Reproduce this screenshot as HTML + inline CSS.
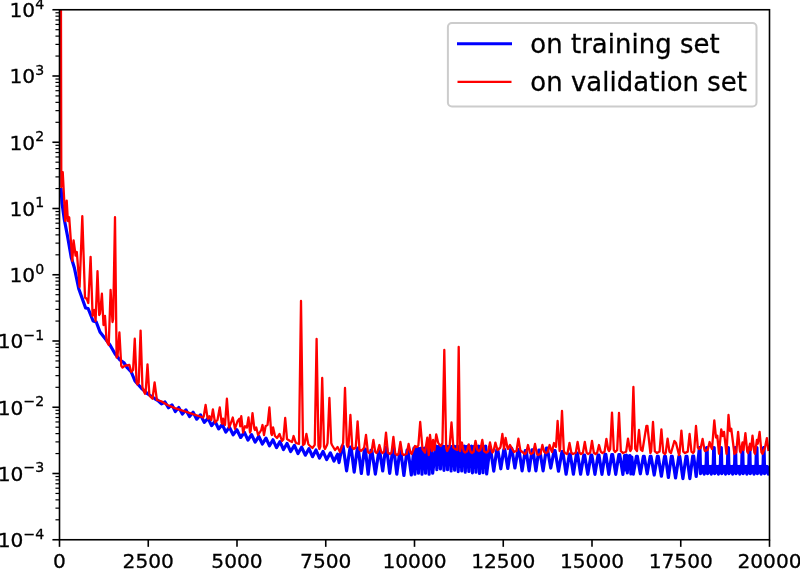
<!DOCTYPE html>
<html lang="en">
<head>
<meta charset="utf-8">
<title>Loss on training and validation set</title>
<style>
html,body{margin:0;padding:0;background:#fff;}
body{width:800px;height:569px;overflow:hidden;}
svg{display:block;}
text{font-family:"DejaVu Sans","Liberation Sans",sans-serif;fill:#000;stroke:#000;stroke-width:0.3px;}
</style>
</head>
<body>
<svg width="800" height="569" viewBox="0 0 800 569">
<rect x="0" y="0" width="800" height="569" fill="#ffffff"/>
<defs><clipPath id="ax"><rect x="59.5" y="9.75" width="710.0" height="530.0"/></clipPath></defs>
<g clip-path="url(#ax)" fill="none" stroke-linejoin="round" stroke-linecap="butt">
<polyline stroke="#0000ff" stroke-width="3.2" points="61.10,188.00 62.00,203.00 64.40,220.00 67.50,236.00 71.25,257.50 74.40,268.00 78.75,288.75 85.60,308.00 88.10,308.50 93.10,321.00 96.25,322.00 100.00,332.00 106.25,340.00 110.00,345.00 115.00,353.75 120.00,360.00 123.75,362.50 127.50,368.00 131.25,372.00 135.00,381.00 141.25,388.00 147.50,393.75 155.00,398.75 158.00,400.50 161.50,403.93 165.00,401.98 168.45,407.75 171.90,404.86 175.32,411.47 178.75,407.43 182.38,414.00 186.00,409.90 189.55,416.58 193.10,412.31 196.75,419.17 200.40,414.84 204.25,422.29 208.10,418.23 211.55,425.64 215.00,421.27 218.62,428.89 222.25,424.47 225.82,432.12 229.40,427.18 233.15,434.75 236.90,429.73 240.65,437.45 244.40,432.29 247.95,440.07 251.50,434.56 255.12,442.14 258.75,436.30 262.38,444.01 266.00,438.07 269.50,445.82 273.00,439.79 276.50,447.64 280.00,441.60 283.50,449.56 287.00,443.45 290.70,451.54 294.40,445.42 298.00,453.55 301.60,447.21 305.30,455.19 309.00,448.66 312.50,456.66 316.00,450.02 319.50,458.10 323.00,451.39 326.70,459.57 330.40,452.83 334.00,461.07 337.60,454.23 339.05,462.56 342.15,446.00 343.05,446.00 346.60,470.82 350.15,447.00 351.05,447.00 354.20,472.04 357.35,448.20 358.25,448.20 361.35,473.44 364.45,449.00 365.35,449.00 368.15,474.20 370.95,450.40 371.85,450.40 375.35,474.05 378.85,451.20 379.75,451.20 382.70,471.00 385.65,447.60 386.55,447.60 389.70,473.40 392.85,448.20 393.75,448.20 396.80,474.18 399.85,451.00 400.75,451.00 403.90,475.48 407.05,450.20 407.95,450.20 411.30,475.01 414.00,448.20 414.89,474.20 415.77,448.60 416.66,468.70 417.55,448.20 418.44,473.20 419.32,448.60 420.21,467.70 421.10,448.20 421.99,474.20 422.87,448.60 423.76,468.70 424.65,448.20 425.54,473.20 426.42,448.60 427.31,467.70 428.20,448.20 429.09,474.20 429.97,448.60 430.86,468.70 431.75,448.20 432.64,473.20 436.00,446.20 436.89,469.67 437.77,446.60 438.66,464.32 439.55,446.20 440.44,468.98 441.32,446.60 442.21,463.64 443.10,446.20 443.99,470.29 444.87,446.60 445.76,464.95 446.65,446.20 447.54,469.61 448.42,446.60 449.31,464.26 450.20,446.20 451.09,470.92 451.97,446.60 452.86,465.58 453.75,446.20 454.64,470.23 455.52,446.60 456.41,464.89 457.30,446.20 458.19,471.55 459.07,446.60 459.96,466.20 460.85,446.20 461.74,470.86 462.62,446.60 463.51,465.52 464.40,446.20 465.29,472.17 466.17,446.60 467.06,466.83 467.95,446.20 468.84,471.49 469.72,446.60 470.61,466.14 471.50,446.20 472.39,472.80 473.27,446.60 474.16,467.46 475.05,446.20 475.94,472.11 476.82,446.60 477.71,466.77 478.60,446.20 479.49,473.43 480.37,446.60 481.26,468.08 482.15,446.20 483.04,472.74 483.92,446.60 484.81,467.40 485.70,446.20 486.65,473.94 489.75,449.20 490.65,449.20 493.75,471.10 496.85,449.60 497.75,449.60 500.80,468.79 503.85,449.60 504.75,449.60 507.80,468.40 510.85,448.40 511.75,448.40 514.90,468.01 518.05,449.60 518.95,449.60 522.10,470.80 525.25,450.50 526.15,450.50 529.10,470.80 532.05,449.80 532.95,449.80 535.90,470.80 538.85,450.20 539.75,450.20 543.10,470.80 546.45,448.20 547.35,448.20 550.75,468.06 554.15,450.50 555.05,450.50 558.50,471.20 561.95,451.70 562.85,451.70 566.10,474.20 569.35,454.20 570.25,454.20 573.40,474.23 576.55,453.20 577.45,453.20 580.60,474.25 583.75,455.20 584.65,455.20 587.80,474.28 590.95,455.20 591.85,455.20 594.95,474.30 598.05,455.20 598.95,455.20 601.95,474.32 604.95,454.40 605.85,454.40 608.80,474.35 611.75,454.70 612.65,454.70 615.75,474.37 618.85,454.70 619.75,454.70 622.90,474.40 624.60,455.50 625.50,470.00 626.40,455.00 627.30,473.00 628.20,456.00 629.10,469.00 630.00,455.50 630.90,474.00 631.80,457.00 633.30,474.20 636.45,456.40 637.35,456.40 640.35,473.77 643.35,456.40 644.25,456.40 647.20,473.85 650.15,456.40 651.05,456.40 654.20,475.01 657.35,456.40 658.25,456.40 661.40,476.19 664.55,456.40 665.45,456.40 668.40,477.47 671.35,456.40 672.25,456.40 675.55,477.91 678.85,456.40 679.75,456.40 682.90,478.58 686.05,456.40 686.95,456.40 689.85,478.63 692.75,456.00 693.65,456.00 696.20,476.50 699.45,447.60 699.95,447.60 700.55,473.60 701.45,466.10 702.35,472.10 703.25,466.60 704.15,474.10 705.05,466.10 705.95,472.60 706.57,447.60 707.07,447.60 707.67,473.60 708.57,466.10 709.47,472.10 710.37,466.60 711.27,474.10 712.17,466.10 713.07,472.60 713.69,447.60 714.19,447.60 714.79,473.60 715.69,466.10 716.59,472.10 717.49,466.60 718.39,474.10 719.29,466.10 720.19,472.60 720.81,447.60 721.31,447.60 721.91,473.60 722.81,466.10 723.71,472.10 724.61,466.60 725.51,474.10 726.41,466.10 727.31,472.60 727.93,447.60 728.43,447.60 729.03,473.60 729.93,466.10 730.83,472.10 731.73,466.60 732.63,474.10 733.53,466.10 734.43,472.60 735.05,447.60 735.55,447.60 736.15,473.60 737.05,466.10 737.95,472.10 738.85,466.60 739.75,474.10 740.65,466.10 741.55,472.60 742.17,447.60 742.67,447.60 743.27,473.60 744.17,466.10 745.07,472.10 745.97,466.60 746.87,474.10 747.77,466.10 748.67,472.60 749.29,447.60 749.79,447.60 750.39,473.60 751.29,466.10 752.19,472.10 753.09,466.60 753.99,474.10 754.89,466.10 755.79,472.60 756.41,447.60 756.91,447.60 757.51,473.60 758.41,466.10 759.31,472.10 760.21,466.60 761.11,474.10 762.01,466.10 762.91,472.60 763.53,447.60 764.03,447.60 764.63,473.60 765.53,466.10 766.43,472.10 767.33,466.60 768.23,474.10 769.13,466.10"/>
<polyline stroke="#ff0000" stroke-width="2.3" points="60.90,-20.00 61.30,187.00 62.75,172.20 65.30,221.00 66.70,200.60 67.90,221.00 69.20,217.30 72.30,261.00 73.60,240.30 75.60,255.50 76.80,252.00 79.60,287.00 82.30,216.25 85.00,297.50 86.90,299.00 88.30,303.00 90.60,256.90 92.60,316.00 94.40,310.00 95.60,321.00 97.50,271.25 99.20,315.00 100.05,313.57 101.90,293.75 103.50,325.00 105.00,316.00 106.60,341.00 108.75,345.00 110.60,290.00 112.50,322.00 113.15,318.90 115.00,217.25 116.60,357.50 117.55,356.00 119.40,332.50 121.25,365.80 122.50,367.50 125.00,365.60 129.40,365.00 131.25,372.00 133.10,370.00 134.75,338.75 136.60,382.49 137.50,384.40 138.75,382.32 140.60,330.60 142.45,387.32 143.20,389.50 145.00,393.75 145.65,392.16 147.50,364.40 149.35,394.61 150.00,396.25 152.50,398.75 154.60,382.50 156.90,400.00 161.25,401.25 167.50,405.00 175.00,408.10 203.10,417.50 203.75,416.25 205.60,405.00 207.45,417.48 208.10,418.75 209.40,416.25 211.25,420.00 212.90,409.40 215.00,422.50 217.50,420.00 219.75,407.50 221.60,422.43 222.25,423.75 223.10,418.75 225.00,425.00 226.90,398.75 229.00,427.50 230.60,423.75 232.75,417.50 235.00,428.75 237.50,421.25 239.40,418.75 240.25,426.25 241.25,416.25 243.10,432.50 245.00,426.25 246.90,427.50 248.50,417.50 250.00,432.50 250.65,431.11 252.50,413.10 254.35,428.66 255.00,430.00 256.25,427.50 258.10,435.00 261.25,430.00 262.50,425.00 264.00,435.00 265.60,426.25 267.55,424.88 269.40,407.50 271.25,433.45 271.90,435.00 273.10,427.50 275.00,436.00 277.00,438.00 279.60,434.00 282.00,441.00 283.35,439.54 285.20,418.00 287.00,439.00 290.00,441.00 292.00,442.00 293.60,436.00 295.45,441.86 296.00,443.00 299.00,444.00 301.00,301.00 303.00,445.00 304.55,443.78 306.40,434.00 308.25,443.78 309.00,445.00 312.40,448.00 314.75,444.82 316.60,339.00 318.45,445.80 319.40,449.00 320.35,446.58 322.20,378.00 324.05,446.58 325.00,449.00 327.00,445.00 327.55,443.06 329.40,398.00 331.25,443.06 332.00,445.00 335.00,450.00 337.60,447.00 340.00,452.00 342.40,445.00 343.15,442.86 345.00,388.00 346.85,444.82 347.60,447.00 348.55,445.36 350.40,415.00 352.25,447.32 353.60,449.00 355.75,447.45 357.60,421.40 359.45,449.41 361.00,451.00 363.00,449.00 364.15,447.72 366.00,435.00 367.85,451.64 369.00,453.00 371.55,451.74 373.40,440.00 375.25,451.74 376.40,453.00 377.55,451.84 379.40,445.00 381.25,451.84 382.40,453.00 384.15,451.59 386.00,432.60 387.85,452.57 390.00,454.00 391.55,452.66 393.40,437.00 395.25,453.64 397.00,455.00 398.55,453.74 400.40,442.00 402.25,453.74 404.00,455.00 406.75,453.78 408.60,444.00 410.45,452.80 411.60,454.00 415.00,446.00 417.00,447.00 418.35,445.50 420.20,422.00 422.50,449.00 425.00,452.50 427.30,437.60 428.75,455.00 430.00,435.00 431.90,451.00 433.10,440.00 434.40,450.00 436.25,434.40 438.10,442.56 438.75,443.75 440.80,446.00 442.45,443.08 444.30,350.00 446.15,447.98 447.20,451.00 448.75,447.50 449.65,446.00 451.50,422.50 453.35,447.47 455.00,449.00 457.30,450.00 458.70,347.00 460.00,451.00 461.90,442.50 463.75,451.30 465.00,452.50 466.90,451.34 468.75,444.40 470.60,451.83 471.90,453.00 473.65,451.76 475.50,440.80 477.35,449.80 478.75,451.00 480.45,449.78 482.30,440.00 484.15,451.25 486.25,452.50 488.15,451.30 490.00,442.50 491.85,451.30 492.50,452.50 493.55,451.30 495.40,442.60 497.50,450.00 500.00,448.00 500.55,446.72 502.40,434.00 504.00,449.00 505.60,438.00 507.45,447.78 508.00,449.00 510.00,445.00 514.00,452.00 516.55,450.73 518.40,438.60 520.25,449.75 521.00,451.00 525.00,454.00 526.15,452.82 528.00,445.00 529.85,452.82 531.00,454.00 533.15,452.80 535.00,444.00 536.85,453.78 538.00,455.00 540.55,453.80 542.40,445.00 544.25,451.84 546.00,453.00 547.75,451.84 549.60,445.00 551.45,450.86 552.00,452.00 554.00,443.00 556.00,447.00 557.60,421.00 559.60,451.00 560.15,449.20 562.00,411.00 563.85,451.16 565.00,453.00 567.00,454.00 567.65,452.78 569.50,443.00 571.35,452.78 573.00,454.00 575.75,452.76 577.60,442.00 579.45,452.76 581.00,454.00 582.95,452.76 584.80,442.00 586.65,452.76 588.00,454.00 590.15,452.74 592.00,441.00 593.85,452.74 595.60,454.00 597.15,452.82 599.00,445.00 600.85,451.84 602.40,453.00 604.55,451.72 606.40,439.00 608.25,449.76 609.00,451.00 610.15,449.23 612.00,412.60 613.85,450.21 615.00,452.00 617.15,450.22 619.00,413.00 620.85,451.20 623.00,453.00 626.15,451.71 628.00,438.60 629.85,449.75 630.40,451.00 631.55,448.72 633.40,387.00 635.25,448.72 637.00,451.00 639.00,430.00 640.85,449.58 642.40,451.00 646.40,426.00 647.40,426.00 650.40,453.00 651.15,451.38 653.00,422.00 654.85,451.38 657.00,453.00 659.55,451.53 661.40,429.40 663.25,452.51 665.00,454.00 665.75,452.69 667.60,438.60 669.45,451.71 671.00,453.00 674.40,441.00 676.00,443.00 679.00,455.00 679.55,453.51 681.40,430.60 683.25,451.55 685.00,453.00 687.75,451.62 689.60,434.00 691.45,451.62 693.00,453.00 694.15,451.46 696.00,426.00 697.85,447.54 699.00,449.00 700.75,447.80 702.60,439.00 704.45,449.76 705.00,451.00 707.75,449.82 709.60,442.00 711.45,447.86 712.00,449.00 714.30,420.30 716.00,437.50 717.25,435.60 719.00,453.75 721.25,429.40 722.75,436.00 724.00,431.90 726.50,453.75 728.50,415.00 730.00,431.00 731.25,428.75 734.40,453.75 736.25,452.31 738.10,431.90 739.95,451.09 740.60,452.50 742.50,442.50 743.50,450.00 745.40,433.10 747.25,451.60 748.00,453.00 750.00,443.75 751.00,450.00 752.50,435.60 754.35,452.39 755.00,453.75 756.90,440.00 757.75,443.75 759.60,431.90 761.45,452.31 762.50,453.75 765.00,447.50 766.90,438.10 768.50,451.00"/>
</g>
<g stroke="#000" fill="none">
<line x1="52.40" y1="9.75" x2="59.50" y2="9.75" stroke-width="1.6"/>
<line x1="52.40" y1="76.00" x2="59.50" y2="76.00" stroke-width="1.6"/>
<line x1="52.40" y1="142.25" x2="59.50" y2="142.25" stroke-width="1.6"/>
<line x1="52.40" y1="208.50" x2="59.50" y2="208.50" stroke-width="1.6"/>
<line x1="52.40" y1="274.75" x2="59.50" y2="274.75" stroke-width="1.6"/>
<line x1="52.40" y1="341.00" x2="59.50" y2="341.00" stroke-width="1.6"/>
<line x1="52.40" y1="407.25" x2="59.50" y2="407.25" stroke-width="1.6"/>
<line x1="52.40" y1="473.50" x2="59.50" y2="473.50" stroke-width="1.6"/>
<line x1="52.40" y1="539.75" x2="59.50" y2="539.75" stroke-width="1.6"/>
<line x1="55.45" y1="56.06" x2="59.50" y2="56.06" stroke-width="1.2"/>
<line x1="55.45" y1="44.39" x2="59.50" y2="44.39" stroke-width="1.2"/>
<line x1="55.45" y1="36.11" x2="59.50" y2="36.11" stroke-width="1.2"/>
<line x1="55.45" y1="29.69" x2="59.50" y2="29.69" stroke-width="1.2"/>
<line x1="55.45" y1="24.45" x2="59.50" y2="24.45" stroke-width="1.2"/>
<line x1="55.45" y1="20.01" x2="59.50" y2="20.01" stroke-width="1.2"/>
<line x1="55.45" y1="16.17" x2="59.50" y2="16.17" stroke-width="1.2"/>
<line x1="55.45" y1="12.78" x2="59.50" y2="12.78" stroke-width="1.2"/>
<line x1="55.45" y1="122.31" x2="59.50" y2="122.31" stroke-width="1.2"/>
<line x1="55.45" y1="110.64" x2="59.50" y2="110.64" stroke-width="1.2"/>
<line x1="55.45" y1="102.36" x2="59.50" y2="102.36" stroke-width="1.2"/>
<line x1="55.45" y1="95.94" x2="59.50" y2="95.94" stroke-width="1.2"/>
<line x1="55.45" y1="90.70" x2="59.50" y2="90.70" stroke-width="1.2"/>
<line x1="55.45" y1="86.26" x2="59.50" y2="86.26" stroke-width="1.2"/>
<line x1="55.45" y1="82.42" x2="59.50" y2="82.42" stroke-width="1.2"/>
<line x1="55.45" y1="79.03" x2="59.50" y2="79.03" stroke-width="1.2"/>
<line x1="55.45" y1="188.56" x2="59.50" y2="188.56" stroke-width="1.2"/>
<line x1="55.45" y1="176.89" x2="59.50" y2="176.89" stroke-width="1.2"/>
<line x1="55.45" y1="168.61" x2="59.50" y2="168.61" stroke-width="1.2"/>
<line x1="55.45" y1="162.19" x2="59.50" y2="162.19" stroke-width="1.2"/>
<line x1="55.45" y1="156.95" x2="59.50" y2="156.95" stroke-width="1.2"/>
<line x1="55.45" y1="152.51" x2="59.50" y2="152.51" stroke-width="1.2"/>
<line x1="55.45" y1="148.67" x2="59.50" y2="148.67" stroke-width="1.2"/>
<line x1="55.45" y1="145.28" x2="59.50" y2="145.28" stroke-width="1.2"/>
<line x1="55.45" y1="254.81" x2="59.50" y2="254.81" stroke-width="1.2"/>
<line x1="55.45" y1="243.14" x2="59.50" y2="243.14" stroke-width="1.2"/>
<line x1="55.45" y1="234.86" x2="59.50" y2="234.86" stroke-width="1.2"/>
<line x1="55.45" y1="228.44" x2="59.50" y2="228.44" stroke-width="1.2"/>
<line x1="55.45" y1="223.20" x2="59.50" y2="223.20" stroke-width="1.2"/>
<line x1="55.45" y1="218.76" x2="59.50" y2="218.76" stroke-width="1.2"/>
<line x1="55.45" y1="214.92" x2="59.50" y2="214.92" stroke-width="1.2"/>
<line x1="55.45" y1="211.53" x2="59.50" y2="211.53" stroke-width="1.2"/>
<line x1="55.45" y1="321.06" x2="59.50" y2="321.06" stroke-width="1.2"/>
<line x1="55.45" y1="309.39" x2="59.50" y2="309.39" stroke-width="1.2"/>
<line x1="55.45" y1="301.11" x2="59.50" y2="301.11" stroke-width="1.2"/>
<line x1="55.45" y1="294.69" x2="59.50" y2="294.69" stroke-width="1.2"/>
<line x1="55.45" y1="289.45" x2="59.50" y2="289.45" stroke-width="1.2"/>
<line x1="55.45" y1="285.01" x2="59.50" y2="285.01" stroke-width="1.2"/>
<line x1="55.45" y1="281.17" x2="59.50" y2="281.17" stroke-width="1.2"/>
<line x1="55.45" y1="277.78" x2="59.50" y2="277.78" stroke-width="1.2"/>
<line x1="55.45" y1="387.31" x2="59.50" y2="387.31" stroke-width="1.2"/>
<line x1="55.45" y1="375.64" x2="59.50" y2="375.64" stroke-width="1.2"/>
<line x1="55.45" y1="367.36" x2="59.50" y2="367.36" stroke-width="1.2"/>
<line x1="55.45" y1="360.94" x2="59.50" y2="360.94" stroke-width="1.2"/>
<line x1="55.45" y1="355.70" x2="59.50" y2="355.70" stroke-width="1.2"/>
<line x1="55.45" y1="351.26" x2="59.50" y2="351.26" stroke-width="1.2"/>
<line x1="55.45" y1="347.42" x2="59.50" y2="347.42" stroke-width="1.2"/>
<line x1="55.45" y1="344.03" x2="59.50" y2="344.03" stroke-width="1.2"/>
<line x1="55.45" y1="453.56" x2="59.50" y2="453.56" stroke-width="1.2"/>
<line x1="55.45" y1="441.89" x2="59.50" y2="441.89" stroke-width="1.2"/>
<line x1="55.45" y1="433.61" x2="59.50" y2="433.61" stroke-width="1.2"/>
<line x1="55.45" y1="427.19" x2="59.50" y2="427.19" stroke-width="1.2"/>
<line x1="55.45" y1="421.95" x2="59.50" y2="421.95" stroke-width="1.2"/>
<line x1="55.45" y1="417.51" x2="59.50" y2="417.51" stroke-width="1.2"/>
<line x1="55.45" y1="413.67" x2="59.50" y2="413.67" stroke-width="1.2"/>
<line x1="55.45" y1="410.28" x2="59.50" y2="410.28" stroke-width="1.2"/>
<line x1="55.45" y1="519.81" x2="59.50" y2="519.81" stroke-width="1.2"/>
<line x1="55.45" y1="508.14" x2="59.50" y2="508.14" stroke-width="1.2"/>
<line x1="55.45" y1="499.86" x2="59.50" y2="499.86" stroke-width="1.2"/>
<line x1="55.45" y1="493.44" x2="59.50" y2="493.44" stroke-width="1.2"/>
<line x1="55.45" y1="488.20" x2="59.50" y2="488.20" stroke-width="1.2"/>
<line x1="55.45" y1="483.76" x2="59.50" y2="483.76" stroke-width="1.2"/>
<line x1="55.45" y1="479.92" x2="59.50" y2="479.92" stroke-width="1.2"/>
<line x1="55.45" y1="476.53" x2="59.50" y2="476.53" stroke-width="1.2"/>
<line x1="59.50" y1="539.75" x2="59.50" y2="546.85" stroke-width="1.6"/>
<line x1="148.25" y1="539.75" x2="148.25" y2="546.85" stroke-width="1.6"/>
<line x1="237.00" y1="539.75" x2="237.00" y2="546.85" stroke-width="1.6"/>
<line x1="325.75" y1="539.75" x2="325.75" y2="546.85" stroke-width="1.6"/>
<line x1="414.50" y1="539.75" x2="414.50" y2="546.85" stroke-width="1.6"/>
<line x1="503.25" y1="539.75" x2="503.25" y2="546.85" stroke-width="1.6"/>
<line x1="592.00" y1="539.75" x2="592.00" y2="546.85" stroke-width="1.6"/>
<line x1="680.75" y1="539.75" x2="680.75" y2="546.85" stroke-width="1.6"/>
<line x1="769.50" y1="539.75" x2="769.50" y2="546.85" stroke-width="1.6"/>
</g>
<rect x="59.5" y="9.75" width="710.0" height="530.0" fill="none" stroke="#000" stroke-width="1.6"/>
<g>
<text x="44.2" y="17.00" text-anchor="end" font-size="20.2">10<tspan dy="-8.3" font-size="14.1">4</tspan></text>
<text x="44.2" y="83.25" text-anchor="end" font-size="20.2">10<tspan dy="-8.3" font-size="14.1">3</tspan></text>
<text x="44.2" y="149.50" text-anchor="end" font-size="20.2">10<tspan dy="-8.3" font-size="14.1">2</tspan></text>
<text x="44.2" y="215.75" text-anchor="end" font-size="20.2">10<tspan dy="-8.3" font-size="14.1">1</tspan></text>
<text x="44.2" y="282.00" text-anchor="end" font-size="20.2">10<tspan dy="-8.3" font-size="14.1">0</tspan></text>
<text x="44.2" y="348.25" text-anchor="end" font-size="20.2">10<tspan dy="-8.3" font-size="14.1">−1</tspan></text>
<text x="44.2" y="414.50" text-anchor="end" font-size="20.2">10<tspan dy="-8.3" font-size="14.1">−2</tspan></text>
<text x="44.2" y="480.75" text-anchor="end" font-size="20.2">10<tspan dy="-8.3" font-size="14.1">−3</tspan></text>
<text x="44.2" y="547.00" text-anchor="end" font-size="20.2">10<tspan dy="-8.3" font-size="14.1">−4</tspan></text>
<text x="59.50" y="567.6" text-anchor="middle" font-size="20.2">0</text>
<text x="148.25" y="567.6" text-anchor="middle" font-size="20.2">2500</text>
<text x="237.00" y="567.6" text-anchor="middle" font-size="20.2">5000</text>
<text x="325.75" y="567.6" text-anchor="middle" font-size="20.2">7500</text>
<text x="414.50" y="567.6" text-anchor="middle" font-size="20.2">10000</text>
<text x="503.25" y="567.6" text-anchor="middle" font-size="20.2">12500</text>
<text x="592.00" y="567.6" text-anchor="middle" font-size="20.2">15000</text>
<text x="680.75" y="567.6" text-anchor="middle" font-size="20.2">17500</text>
<text x="769.50" y="567.6" text-anchor="middle" font-size="20.2">20000</text>
</g>
<g>
<rect x="447.9" y="23" width="308.6" height="83.5" rx="4" ry="4" fill="#ffffff" fill-opacity="0.8" stroke="#cccccc" stroke-width="2"/>
<line x1="457" y1="43.8" x2="512" y2="43.8" stroke="#0000ff" stroke-width="3.0"/>
<line x1="457.5" y1="81.8" x2="511.5" y2="81.8" stroke="#ff0000" stroke-width="2.3"/>
<text x="530.3" y="52.7" font-size="25.9" letter-spacing="0.06">on training set</text>
<text x="530.3" y="90.7" font-size="25.9" letter-spacing="0.06">on validation set</text>
</g>
</svg>
</body>
</html>
